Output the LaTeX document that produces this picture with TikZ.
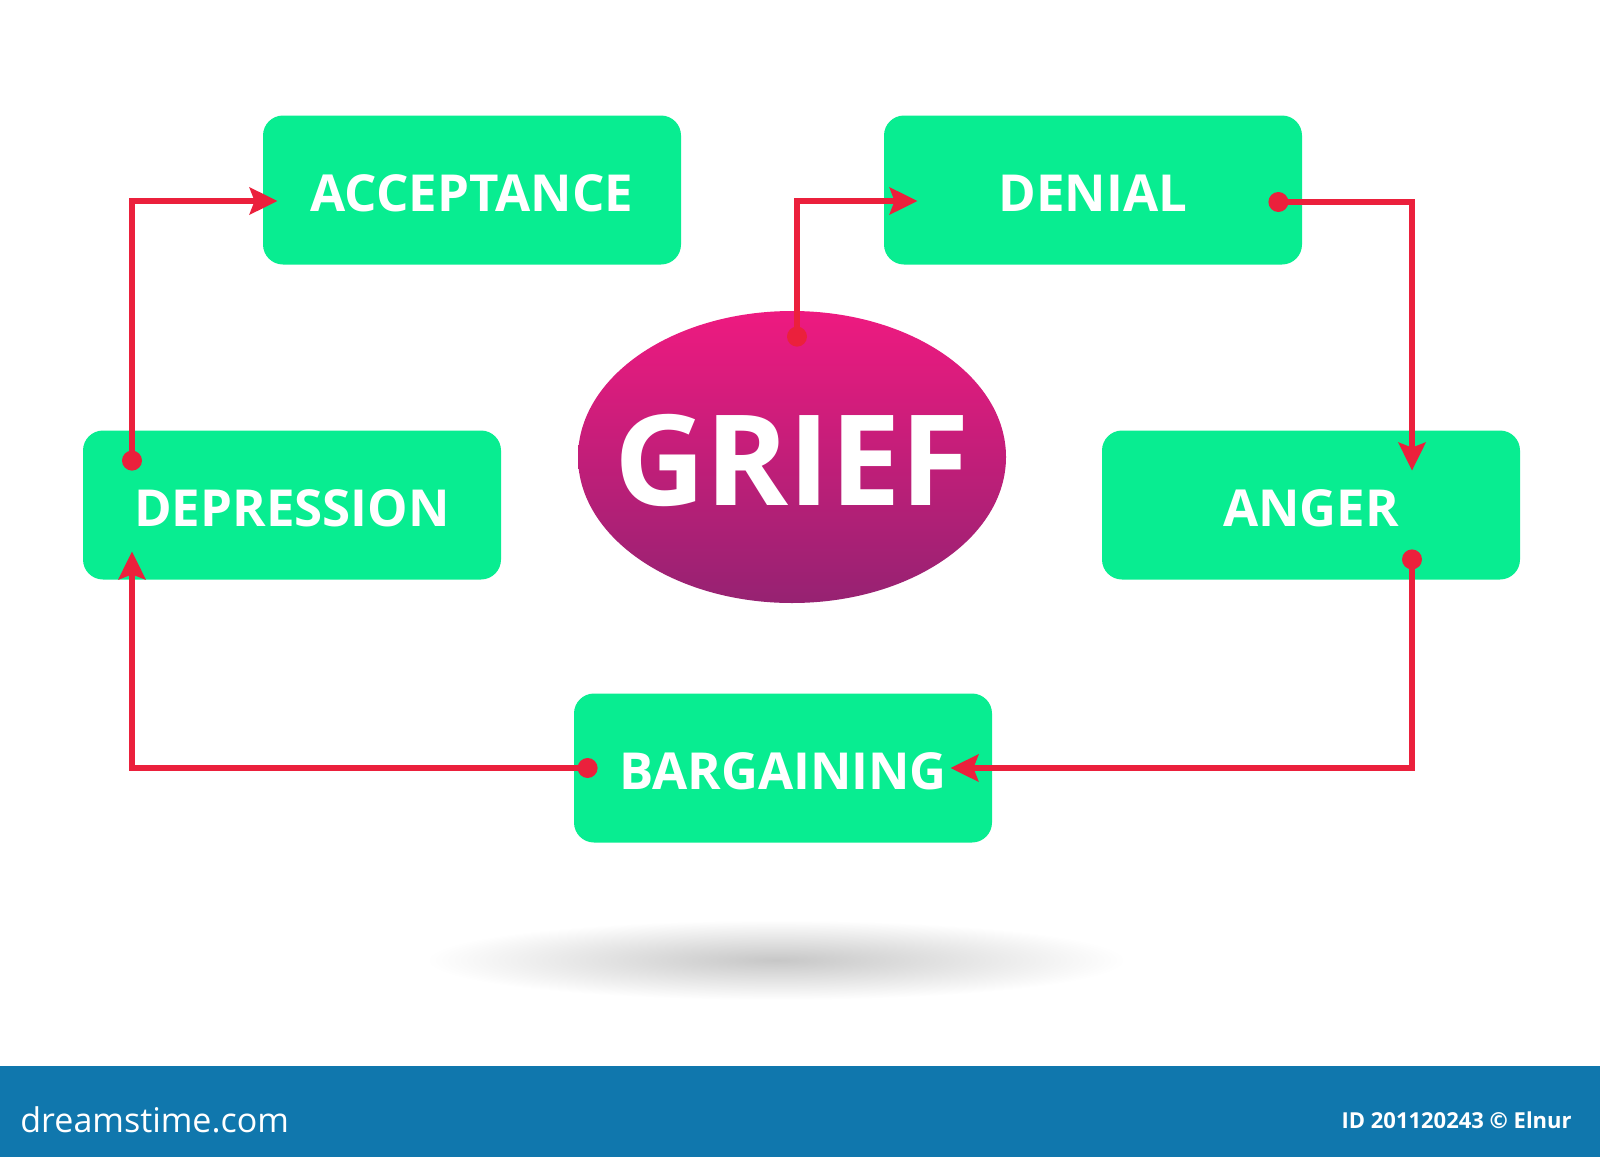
\documentclass[tikz,border=0pt]{standalone}
\usepackage{fontspec}
\setmainfont{Open Sans}
\usepackage{tikz}
\usetikzlibrary{arrows.meta}
\usetikzlibrary{shapes.geometric}
\definecolor{stagegreen}{RGB}{8,237,145}
\definecolor{linkred}{RGB}{235,32,60}
\definecolor{griefpink}{RGB}{238,26,128}
\definecolor{griefplum}{RGB}{150,34,114}
\definecolor{barblue}{RGB}{16,119,173}

\begin{document}
\begin{tikzpicture}[x=1pt,y=-1pt]
	\useasboundingbox (0,0) rectangle (800,578.5);
	% footer bar and floor shadow
	\fill[barblue] (0,533) rectangle (800,578.5);
	\shade[inner color=black!22, outer color=white] (388,480) ellipse (175 and 20);

	\begin{scope}[every node/.style={rectangle, rounded corners=10pt, fill=stagegreen, text=white,
	              minimum width=209pt, minimum height=74.5pt, inner sep=0pt,
	              text height=21pt, text depth=0pt,
	              font=\bfseries\fontsize{25.5}{25.5}\selectfont}]
		\node (acceptance) at (236,95) {ACCEPTANCE};
		\node (denial) at (546.5,95) {DENIAL};
		\node (depression) at (146,252.5) {DEPRESSION};
		\node (anger) at (655.5,252.5) {ANGER};
		\node (bargaining) at (391.5,384) {BARGAINING};
	\end{scope}

	\node[ellipse, top color=griefpink, bottom color=griefplum, minimum width=214pt, minimum height=146pt,
	      label={[text=white, font=\bfseries\fontsize{63}{63}\selectfont, yshift=-1.5pt]center:GRIEF}] (grief) at (396,228.5) {};

	\begin{scope}[line width=2.6pt, color=linkred,
	              >={Stealth[length=14pt, width=13.5pt, inset=2.5pt]}]
		\coordinate (o1) at ([shift={(2.5,13)}]grief.north);
		\coordinate (o2) at ([shift={(-12,6)}]denial.east);
		\coordinate (o3) at ([shift={(50.5,-10.25)}]anger.south);
		\coordinate (o4) at ([shift={(7,0)}]bargaining.west);
		\coordinate (o5) at ([shift={(-80,15.25)}]depression.north);
		\draw[->] (o1) |- ([shift={(17,5.5)}]denial.west);
		\draw[->] (o2) -| ([shift={(50.5,20.25)}]anger.north);
		\draw[->] (o3) |- ([shift={(-21,0)}]bargaining.east);
		\draw[->] (o4) -| ([shift={(-80,-14.25)}]depression.south);
		\draw[->] (o5) |- ([shift={(7.5,5.5)}]acceptance.west);
		\foreach \p in {o1,o2,o3,o4,o5}
			\fill (\p) circle (5pt);
	\end{scope}

	\node[anchor=west, inner sep=0pt, text=white, font=\fontsize{17}{17}\selectfont] (site) at (10,560) {dreamstime.com};
	\node[anchor=east, inner sep=0pt, text=white, font=\bfseries\fontsize{11}{11}\selectfont] (credit) at (786,560) {ID 201120243 © Elnur};
\end{tikzpicture}
\end{document}
